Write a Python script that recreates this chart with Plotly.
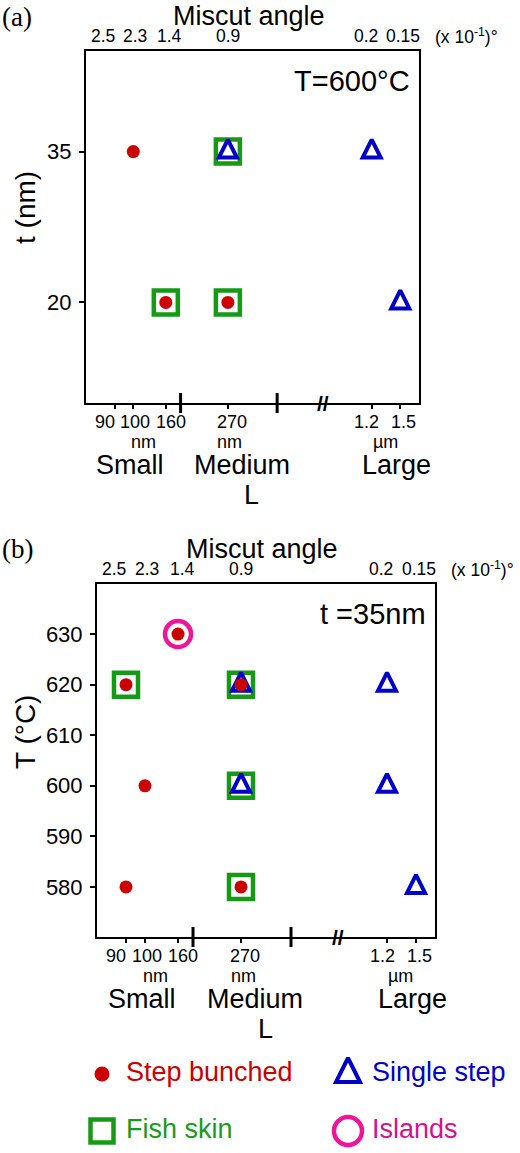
import plotly.graph_objects as go

# terrace width L (bottom axis) and the matching miscut angle (top axis)
L_LABELS = ["90", "100", "160", "270", "1.2", "1.5"]
MISCUT_LABELS = ["2.5", "2.3", "1.4", "0.9", "0.2", "0.15"]
L_POS = [29, 48, 81, 144, 290, 319]   # place of each value along the broken axis
GROUP_EDGES = [96, 194]
BREAK_POS = 241
GROUPS = ["Small", "Medium", "Large"]
UNITS = [("nm", "100"), ("nm", "270"), ("µm", "1.2|1.5")]

# (a) T = 600 °C, thickness t (nm)
a_step_L = ["100", "160", "270"]
a_step_t = [35, 20, 20]
a_fish_L = ["270", "160", "270"]
a_fish_t = [35, 20, 20]
a_single_L = ["270", "1.2", "1.5"]
a_single_t = [35, 35, 20]
A_YTICKS = [20, 35]

# (b) t = 35 nm, temperature T (°C)
b_step_L = ["160", "90", "270", "100", "90", "270"]
b_step_T = [630, 620, 620, 600, 580, 580]
b_fish_L = ["90", "270", "270", "270"]
b_fish_T = [620, 620, 600, 580]
b_single_L = ["270", "1.2", "270", "1.2", "1.5"]
b_single_T = [620, 620, 600, 600, 580]
b_island_L = ["160"]
b_island_T = [630]
B_YTICKS = [580, 590, 600, 610, 620, 630]

KEY_NAMES = ["Step bunched", "Single step", "Fish skin", "Islands"]
KEY_KINDS = ["step", "single", "fish", "island"]

# ---- styles / layout ----
W, H = 520, 1153
FONT = "Liberation Sans, Arial, Helvetica, sans-serif"
RED, BLUE, GREEN, PINK = "#cc0000", "#0000c8", "#169a16", "#ee1599"
TEXT_COL = {"step": "#c80000", "single": "#0000cc", "fish": "#1a9a1a", "island": "#d4128c"}
BOTTOM_NUDGE = [-10, 2, 5, 4, -5, 3]
TOP_NUDGE = [-12, 2, 4, 0, -6, 3]
GROUP_X = [45, 158, 315]
L_TITLE_X = 168
XRANGE = [0, 338]


def marker_style(kind, big=False):
    if kind == "step":
        return dict(symbol="circle", size=15 if big else 13, color=RED)
    if kind == "fish":
        return dict(symbol="square-open", size=23 if big else 24, color=GREEN,
                    line=dict(width=4.5, color=GREEN))
    if kind == "island":
        return dict(symbol="circle-open", size=28 if big else 26, color=PINK,
                    line=dict(width=4.5, color=PINK))
    s = 24 if big else 18
    # arrow rotated to point up, pushed so its centroid sits on the point
    return dict(symbol="arrow-down-open", size=s, angle=180, standoff=s * 2 / 3,
                color=BLUE, line=dict(width=4, color=BLUE))


def xpos(labels):
    return [L_POS[L_LABELS.index(v)] for v in labels]


fig = go.Figure()

panels = [
    dict(sfx="", n=1, xdom=[86 / W, 419 / W], ydom=[1 - 403 / H, 1 - 51 / H],
         yrange=[10.0, 45.0], yticks=A_YTICKS, hpx=352,
         series=[("fish", a_fish_L, a_fish_t), ("single", a_single_L, a_single_t),
                 ("step", a_step_L, a_step_t)],
         note="T=600°C", tag="(a)", tag_y=17, ytitle="t (nm)", ytitle_y=208),
    dict(sfx="2", n=2, xdom=[97 / W, 435 / W], ydom=[1 - 937 / H, 1 - 584 / H],
         yrange=[570.1, 639.9], yticks=B_YTICKS, hpx=353,
         series=[("fish", b_fish_L, b_fish_T), ("island", b_island_L, b_island_T),
                 ("single", b_single_L, b_single_T), ("step", b_step_L, b_step_T)],
         note="t =35nm", tag="(b)", tag_y=549, ytitle="T (°C)", ytitle_y=732),
]

layout = dict(width=W, height=H, margin=dict(l=0, r=0, t=0, b=0),
              paper_bgcolor="white", plot_bgcolor="white", showlegend=False,
              font=dict(family=FONT, color="black"))
annotations = []
shapes = []

for p in panels:
    s, n = p["sfx"], p["n"]
    xid, yid = "x" + s, "y" + s
    for kind, Ls, ys in p["series"]:
        fig.add_trace(go.Scatter(x=xpos(Ls), y=ys, mode="markers",
                                 marker=marker_style(kind), xaxis=xid, yaxis=yid,
                                 hoverinfo="skip"))

    base_x = dict(range=XRANGE, showgrid=False, zeroline=False, tickmode="array",
                  tickvals=L_POS, showticklabels=False, tickcolor="black", tickwidth=2)
    layout["xaxis" + s] = dict(base_x, domain=p["xdom"], anchor=yid, side="bottom",
                               ticks="outside", ticklen=4, showline=True,
                               linecolor="black", linewidth=2, mirror=True)
    layout["xaxis" + str(n + 2)] = dict(base_x, overlaying=xid, anchor=yid, side="bottom",
                                        ticks="inside", ticklen=5, showline=False)
    layout["xaxis" + str(n + 4)] = dict(base_x, overlaying=xid, anchor=yid, side="top",
                                        ticks="outside", ticklen=4, showline=False)
    layout["xaxis" + str(n + 6)] = dict(base_x, overlaying=xid, anchor=yid, side="top",
                                        ticks="inside", ticklen=5, showline=False)
    base_y = dict(range=p["yrange"], showgrid=False, zeroline=False, tickmode="array",
                  tickvals=p["yticks"], tickcolor="black", tickwidth=2)
    layout["yaxis" + s] = dict(base_y, domain=p["ydom"], anchor=xid, ticks="outside",
                               ticklen=5, showline=True, linecolor="black", linewidth=2,
                               mirror=True, tickfont=dict(size=22, family=FONT),
                               ticklabelstandoff=3)
    layout["yaxis" + str(n + 2)] = dict(base_y, overlaying=yid, anchor=xid, side="left",
                                        ticks="inside", ticklen=3, showticklabels=False)

    ydom_ref = yid + " domain"
    # bottom tick labels, units, group names, axis title
    for lab, pos, dx in zip(L_LABELS, L_POS, BOTTOM_NUDGE):
        annotations.append(dict(x=pos, xref=xid, y=0, yref=ydom_ref, text=lab,
                                showarrow=False, xshift=dx, yshift=-19,
                                yanchor="middle", font=dict(size=18)))
    for unit, under in UNITS:
        if "|" in under:
            a, b = under.split("|")
            ux = (L_POS[L_LABELS.index(a)] + L_POS[L_LABELS.index(b)]) / 2
            dx = -1
        else:
            ux = L_POS[L_LABELS.index(under)]
            dx = 10 if under == "100" else 2
        annotations.append(dict(x=ux, xref=xid, y=0, yref=ydom_ref, text=unit,
                                showarrow=False, xshift=dx, yshift=-39,
                                yanchor="middle", font=dict(size=18)))
    for g, gx in zip(GROUPS, GROUP_X):
        annotations.append(dict(x=gx, xref=xid, y=0, yref=ydom_ref, text=g,
                                showarrow=False, yshift=-62, yanchor="middle",
                                font=dict(size=27)))
    annotations.append(dict(x=L_TITLE_X, xref=xid, y=0, yref=ydom_ref, text="L",
                            showarrow=False, yshift=-92, yanchor="middle",
                            font=dict(size=27)))
    annotations.append(dict(x=BREAK_POS, xref=xid, y=0, yref=ydom_ref, text="<b>//</b>",
                            showarrow=False, yanchor="middle", font=dict(size=21)))
    # top tick labels
    for lab, pos, dx in zip(MISCUT_LABELS, L_POS, TOP_NUDGE):
        annotations.append(dict(x=pos, xref=xid, y=1, yref=ydom_ref, text=lab,
                                showarrow=False, xshift=dx, yshift=15,
                                yanchor="middle", font=dict(size=17.5)))
    annotations.append(dict(x=1, xref=xid + " domain", y=1, yref=ydom_ref,
                            text="(x 10<sup>-1</sup>)°", showarrow=False, xanchor="left",
                            xshift=14, yshift=15, yanchor="middle", font=dict(size=17.5)))
    annotations.append(dict(x=165, xref=xid, y=1, yref=ydom_ref, text="Miscut angle",
                            showarrow=False, yshift=35, yanchor="middle",
                            font=dict(size=27)))
    annotations.append(dict(x=1, xref=xid + " domain", y=1, yref=ydom_ref, text=p["note"],
                            showarrow=False, xanchor="right", xshift=-7, yshift=-30,
                            yanchor="middle", font=dict(size=29)))
    annotations.append(dict(x=25 / W, xref="paper", y=1 - p["ytitle_y"] / H, yref="paper",
                            text=p["ytitle"], textangle=-90, showarrow=False,
                            xanchor="center", yanchor="middle", font=dict(size=28)))
    annotations.append(dict(x=0, xref="paper", y=1 - p["tag_y"] / H, yref="paper",
                            text=p["tag"], showarrow=False, xanchor="left", yanchor="middle",
                            font=dict(size=27, family="Liberation Serif, Times New Roman, serif")))
    # thick separators between the Small / Medium / Large groups
    for e in GROUP_EDGES:
        shapes.append(dict(type="line", xref=xid, yref=ydom_ref, x0=e, x1=e,
                           y0=-10 / p["hpx"], y1=10 / p["hpx"],
                           line=dict(color="black", width=3)))

# symbol key below panel (b)
KEY_X = [102, 348]
KEY_Y = [79, 22]
for i, (name, kind) in enumerate(zip(KEY_NAMES, KEY_KINDS)):
    kx, ky = KEY_X[i % 2], KEY_Y[i // 2]
    fig.add_trace(go.Scatter(x=[kx], y=[ky], mode="markers", marker=marker_style(kind, big=True),
                             xaxis="x9", yaxis="y9", hoverinfo="skip"))
    fig.add_trace(go.Scatter(x=[kx + 24], y=[ky], mode="text", text=[name],
                             textposition="middle right",
                             textfont=dict(size=27, color=TEXT_COL[kind], family=FONT),
                             xaxis="x9", yaxis="y9", hoverinfo="skip"))
layout["xaxis9"] = dict(domain=[0, 1], range=[0, W], visible=False, anchor="y9")
layout["yaxis9"] = dict(domain=[0, 0.1], range=[0, 0.1 * H], visible=False, anchor="x9")

layout["annotations"] = annotations
layout["shapes"] = shapes
fig.update_layout(**layout)

# the page body has a default 8px margin; drop it so the figure fills the window
fig.write_html("out.html", config={"displayModeBar": False},
               post_script="document.body.style.margin='0';")
